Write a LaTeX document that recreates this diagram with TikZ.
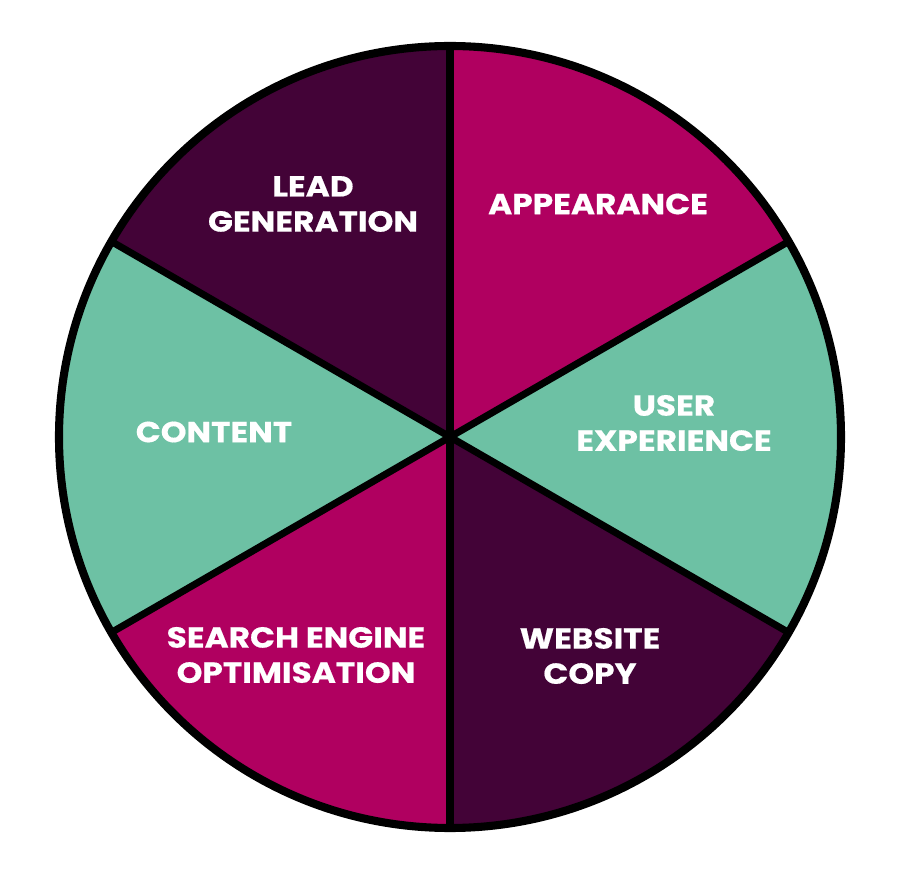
\documentclass[tikz,border=0pt]{standalone}
\usepackage{fontspec}
\setmainfont{Poppins}
\newfontfamily\slicefont{Poppins}[FakeStretch=1.13, FakeBold=0.5]
\usetikzlibrary{math}
\definecolor{plum}{HTML}{430337}
\definecolor{berry}{HTML}{B00060}
\definecolor{mint}{HTML}{6DC1A4}

\begin{document}
\begin{tikzpicture}[x=0.02cm, y=0.02cm,
  slice/.style={text=white, font=\slicefont\bfseries\fontsize{16.5}{20}\selectfont, align=center},
  spoke/.style={line width=4pt, black}]
      \tikzmath{\cx = 450; \cy = 436; \r = 391;}
      \useasboundingbox (0,0) rectangle (900,873);
      \coordinate (o) at (\cx,\cy);
      \foreach \a/\c in {30/berry, 90/plum, 150/mint, 210/berry, 270/plum, 330/mint}
        \fill[\c] (o) -- ++(\a:\r) arc[start angle=\a, delta angle=60, radius=\r] -- cycle;
      \foreach \a in {30, 90, 150, 210, 270, 330}
        \draw[spoke] (o) -- ++(\a:\r);
      \draw[line width=4.6pt] (o) circle[radius=\r];
      \node[slice] (lead) at (313,669) {LEAD\\GENERATION};
      \node[slice] (appear) at (598,669) {APPEARANCE};
      \node[slice] (ux) at (674,450) {USER\\EXPERIENCE};
      \node[slice] (content) at (214,441) {CONTENT};
      \node[slice] (seo) at (296,218) {SEARCH ENGINE\\OPTIMISATION};
      \node[slice] (copy) at (590,217) {WEBSITE\\COPY};
    \end{tikzpicture}
\end{document}
